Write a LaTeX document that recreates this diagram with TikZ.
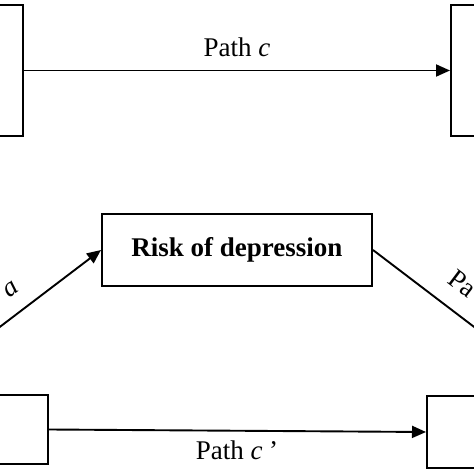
\documentclass[tikz,border=0pt]{standalone}
\usepackage{fontspec}
\setmainfont{Liberation Serif}
\usetikzlibrary{arrows.meta}
\begin{document}
\begin{tikzpicture}[x=1pt,y=1pt,
  box/.style={draw=black, line width=2pt, inner sep=0pt, fill=white},
  arr/.style={line width=1.9pt, -{Triangle[length=14pt,width=12pt]}},
  plain/.style={line width=1.9pt},
  lbl/.style={font=\fontsize{27}{32}\selectfont, inner sep=0pt}]
\useasboundingbox (0,0) rectangle (474,474);
\clip (0,0) rectangle (474,474);
% top row
\node[box, minimum width=100pt, minimum height=131pt] (TL) at (-27,403.5) {};
\node[box, minimum width=100pt, minimum height=131pt] (TR) at (501,403.5) {};
\draw[arr] (TL.east) -- (TR.west);
\node[lbl, anchor=base] (lc) at (237,417) {Path \textit{c}};
% middle
\node[box, minimum width=270pt, minimum height=72pt, font=\fontsize{27}{32}\selectfont\bfseries] (M) at (237,224) {Risk of depression};
\coordinate (a0) at (-30,124.4);
\coordinate (b0) at (504,124.3);
\draw[arr] (a0) -- (M.west);
\draw[plain] (M.east) -- (b0);
\node[lbl, rotate=37] (la) at (11,185) {\textit{a}};
\node[lbl, rotate=-37] (lb) at (463,190) {Pa};
% bottom row
\node[box, minimum width=100pt, minimum height=69pt] (BL) at (-2,44.5) {};
\node[box, minimum width=100pt, minimum height=72pt] (BR) at (477,42) {};
\draw[arr] (BL.east) -- (BR.west);
\node[lbl, anchor=base] (lcp) at (237,14) {Path \textit{c} ’};
\end{tikzpicture}
\end{document}
